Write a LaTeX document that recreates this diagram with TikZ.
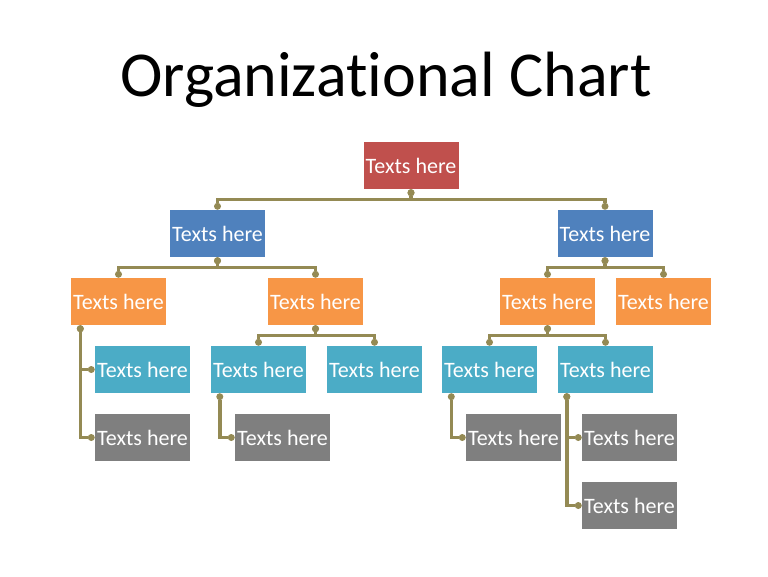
\documentclass[tikz,border=0pt]{standalone}
\usepackage{fontspec}
\setmainfont[RawFeature=-liga]{Carlito}
\usetikzlibrary{arrows.meta}
\definecolor{cRed}{HTML}{C0504D}
\definecolor{cBlue}{HTML}{4F81BD}
\definecolor{cOrange}{HTML}{F79646}
\definecolor{cCyan}{HTML}{4BACC6}
\definecolor{cGray}{HTML}{7F7F7F}
\definecolor{cLine}{HTML}{948A54}
\begin{document}
\begin{tikzpicture}[x=1pt,y=-1pt,
  box/.style={minimum width=95pt,minimum height=47pt,inner sep=0pt,text=white,font=\fontsize{22}{26}\selectfont},
  redbox/.style={box,fill=cRed},
  bluebox/.style={box,fill=cBlue},
  orangebox/.style={box,fill=cOrange},
  cyanbox/.style={box,fill=cCyan},
  graybox/.style={box,fill=cGray},
  dot/.tip={Circle[length=7pt,width=7pt,line width=0pt]},
  conn/.style={draw=cLine,line width=3.5pt,dot-dot}
]
\useasboundingbox (0,0) rectangle (768,576);
\node[anchor=base,font=\fontsize{64}{70}\selectfont] (title) at (386,96) {Organizational Chart};

\node[redbox] (root) at (411,165.5) {Texts here};
\node[bluebox] (b1) at (217.5,233.5) {Texts here};
\node[bluebox] (b2) at (605,233.5) {Texts here};
\node[orangebox] (o1) at (118.5,301.5) {Texts here};
\node[orangebox] (o2) at (315.5,301.5) {Texts here};
\node[orangebox] (o3) at (547.5,301.5) {Texts here};
\node[orangebox] (o4) at (663.5,301.5) {Texts here};
\node[cyanbox] (c1) at (142.5,369.5) {Texts here};
\node[cyanbox] (c2) at (258.5,369.5) {Texts here};
\node[cyanbox] (c3) at (374.5,369.5) {Texts here};
\node[cyanbox] (c4) at (489.5,369.5) {Texts here};
\node[cyanbox] (c5) at (605.5,369.5) {Texts here};
\node[graybox] (g1) at (142.5,437.5) {Texts here};
\node[graybox] (g2) at (282.5,437.5) {Texts here};
\node[graybox] (g3) at (513.5,437.5) {Texts here};
\node[graybox] (g4) at (629.5,437.5) {Texts here};
\node[graybox] (g5) at (629.5,505.5) {Texts here};

\draw[conn] (root.south) -- ++(0,10.5) -| (b1.north);
\draw[conn] (root.south) -- ++(0,10.5) -| (b2.north);
\draw[conn] (b1.south) -- ++(0,10.5) -| (o1.north);
\draw[conn] (b1.south) -- ++(0,10.5) -| (o2.north);
\draw[conn] (b2.south) -- ++(0,10.5) -| (o3.north);
\draw[conn] (b2.south) -- ++(0,10.5) -| (o4.north);
\draw[conn] (o2.south) -- ++(0,10.5) -| (c2.north);
\draw[conn] (o2.south) -- ++(0,10.5) -| (c3.north);
\draw[conn] (o3.south) -- ++(0,10.5) -| (c4.north);
\draw[conn] (o3.south) -- ++(0,10.5) -| (c5.north);
\draw[conn] ([xshift=9.5pt]o1.south west) |- (c1.west);
\draw[conn] ([xshift=9.5pt]o1.south west) |- (g1.west);
\draw[conn] ([xshift=9pt]c2.south west) |- (g2.west);
\draw[conn] ([xshift=9.5pt]c4.south west) |- (g3.west);
\draw[conn] ([xshift=9pt]c5.south west) |- (g4.west);
\draw[conn] ([xshift=9pt]c5.south west) |- (g5.west);
\end{tikzpicture}
\end{document}
